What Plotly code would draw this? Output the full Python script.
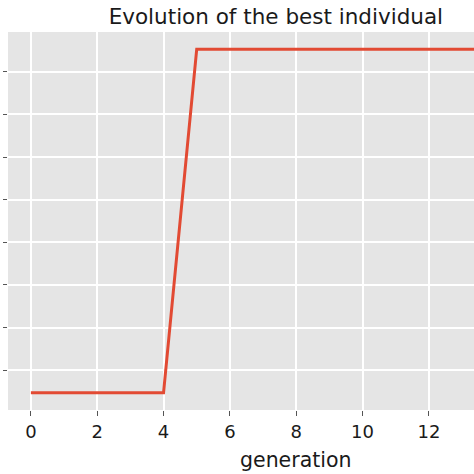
import plotly.graph_objects as go

generation = list(range(15))
best_fitness = [1.47, 1.47, 1.47, 1.47, 1.47,
                9.53, 9.53, 9.53, 9.53, 9.53, 9.53, 9.53, 9.53, 9.53, 9.53]
x_ticks = [0, 2, 4, 6, 8, 10, 12]
y_ticks = [2, 3, 4, 5, 6, 7, 8, 9]

fig = go.Figure()
fig.add_trace(go.Scatter(x=generation, y=best_fitness, mode="lines",
                         line=dict(color="#E24A33", width=3),
                         showlegend=False, hoverinfo="skip"))

fig.update_layout(
    width=474, height=474,
    margin=dict(l=8, r=0, t=32, b=64),
    paper_bgcolor="white",
    plot_bgcolor="#E5E5E5",
    font=dict(family="DejaVu Sans", color="#1a1a1a"),
    title=dict(text="Evolution of the best individual", x=0.582, xanchor="center",
               y=0.966, yanchor="middle", font=dict(size=21.5, color="#1a1a1a")),
    xaxis=dict(range=[-0.69, 13.36], tickvals=x_ticks, showgrid=True,
               gridcolor="white", gridwidth=2, zeroline=False,
               ticks="outside", ticklen=5, tickcolor="#555", tickwidth=1,
               tickfont=dict(size=18, color="#1a1a1a"), showline=False),
    yaxis=dict(range=[1.067, 9.933], tickvals=y_ticks, showgrid=True,
               gridcolor="white", gridwidth=2, zeroline=False,
               ticks="outside", ticklen=4, tickcolor="#555", tickwidth=1,
               showticklabels=False, showline=False),
    annotations=[dict(text="generation", xref="paper", yref="paper",
                      x=0.618, y=-0.132, xanchor="center", yanchor="middle",
                      showarrow=False, font=dict(size=20.5, color="#1a1a1a"))],
)

fig.write_html("out.html", config={"displayModeBar": False},
               post_script="document.body.style.margin='0px';")
